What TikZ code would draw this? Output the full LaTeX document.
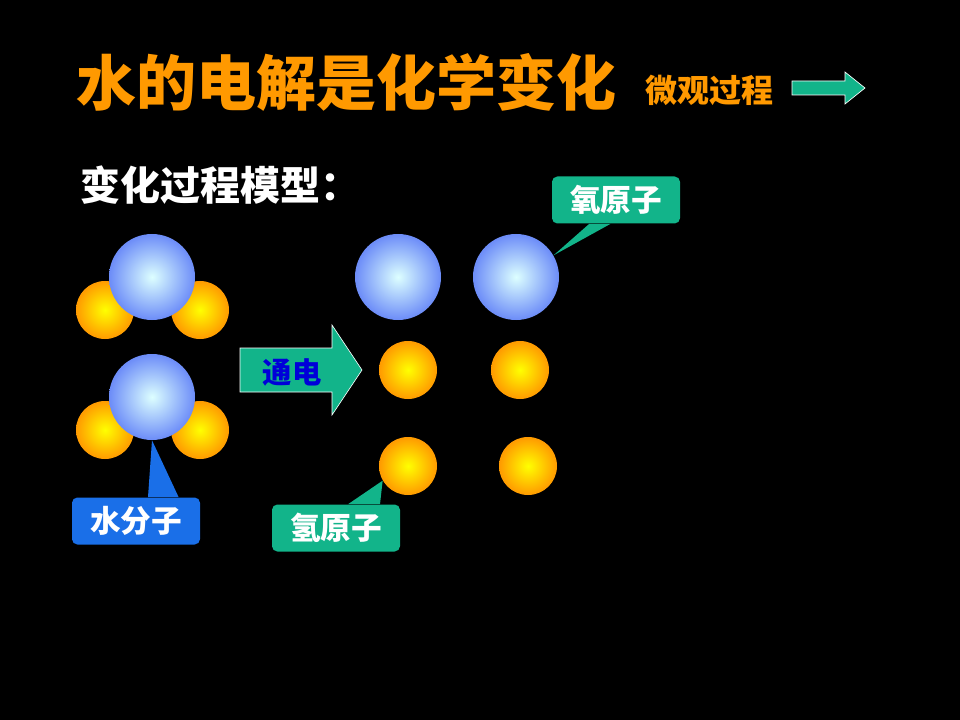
\documentclass[tikz,border=0pt]{standalone}
\usepackage{fontspec}
\newfontfamily\cjk{Noto Sans CJK SC}
\definecolor{titleOrange}{HTML}{FF9900}
\definecolor{calloutTeal}{HTML}{12B48A}
\definecolor{calloutBlue}{HTML}{1A6FE8}
\definecolor{oxyOut}{HTML}{6C8CF8}
\definecolor{oxyIn}{HTML}{DDFFFF}
\definecolor{hydOut}{HTML}{FF9A00}
\definecolor{hydIn}{HTML}{FFFF00}

\tikzset{
  oxygen/.style={circle, minimum size=86*0.75pt, inner sep=0pt,
    inner color=oxyIn, outer color=oxyOut},
  hydrogen/.style={circle, minimum size=58*0.75pt, inner sep=0pt,
    inner color=hydIn, outer color=hydOut},
  callout/.style={rounded corners=4pt, minimum width=128*0.75pt,
    minimum height=47*0.75pt, text=white, font=\cjk\bfseries\fontsize{23pt}{23pt}\selectfont},
}

\begin{document}
\begin{tikzpicture}[x=0.75pt, y=-0.75pt]
    \fill [black] (0, 0) rectangle (960, 720) ;
    \useasboundingbox (0, 0) rectangle (960, 720) ;

    % headings
    \node [text=titleOrange, font=\cjk\bfseries\fontsize{45pt}{45pt}\selectfont]
          at (346, 82) (title) {水的电解是化学变化} ;
    \node [text=titleOrange, font=\cjk\bfseries\fontsize{24pt}{24pt}\selectfont]
          at (709, 90) (micro) {微观过程} ;
    \node [text=white, font=\cjk\bfseries\fontsize{30pt}{30pt}\selectfont, anchor=west]
          at (76, 185) (model) {变化过程模型：} ;

    % small arrow
    \coordinate (arr-a) at (792, 88) ;
    \filldraw [fill=calloutTeal, draw=white, line width=0.5pt]
          (arr-a) ++(0, -7) -- ++(53, 0) -- ++(0, -9) -- ++(20, 16)
          -- ++(-20, 16) -- ++(0, -9) -- ++(-53, 0) -- cycle ;

    % water molecules
    \node [hydrogen] at (105, 310) (h1) {} ;
    \node [hydrogen] at (200, 310) (h2) {} ;
    \node [oxygen]   at (152, 277) (o1) {} ;
    \node [hydrogen] at (105, 430) (h3) {} ;
    \node [hydrogen] at (200, 430) (h4) {} ;
    \node [oxygen]   at (152, 397) (o2) {} ;

    % big arrow
    \coordinate (big-a) at (240, 348) ;
    \filldraw [fill=calloutTeal, draw=white, line width=0.5pt]
          (big-a) -- ++(92, 0) -- ++(0, -23) -- ++(30, 45)
          -- ++(-30, 45) -- ++(0, -23) -- ++(-92, 0) -- cycle ;
    \node [text=blue!85!black, font=\cjk\bfseries\fontsize{22pt}{22pt}\selectfont]
          at (292, 372) (power) {通电} ;

    % separated atoms
    \node [oxygen]   at (398, 277) (o3) {} ;
    \node [oxygen]   at (516, 277) (o4) {} ;
    \node [hydrogen] at (408, 370) (h5) {} ;
    \node [hydrogen] at (520, 370) (h6) {} ;
    \node [hydrogen] at (408, 466) (h7) {} ;
    \node [hydrogen] at (528, 466) (h8) {} ;

    % callouts
    \node [callout, fill=calloutTeal] at (616, 200) (lbl-o) {氧原子} ;
    \fill [calloutTeal] ([xshift=-20pt]lbl-o.south) -- ([xshift=-4pt]lbl-o.south)
          -- (o4.30) -- cycle ;

    \node [callout, fill=calloutBlue] at (136, 521) (lbl-w) {水分子} ;
    \fill [calloutBlue] ([xshift=9pt]lbl-w.north) -- ([xshift=32pt]lbl-w.north)
          -- (o2.south) -- cycle ;

    \node [callout, fill=calloutTeal] at (336, 528) (lbl-h) {氢原子} ;
    \fill [calloutTeal] ([xshift=9pt]lbl-h.north) -- ([xshift=33pt]lbl-h.north)
          -- (h7.210) -- cycle ;
\end{tikzpicture}
\end{document}
